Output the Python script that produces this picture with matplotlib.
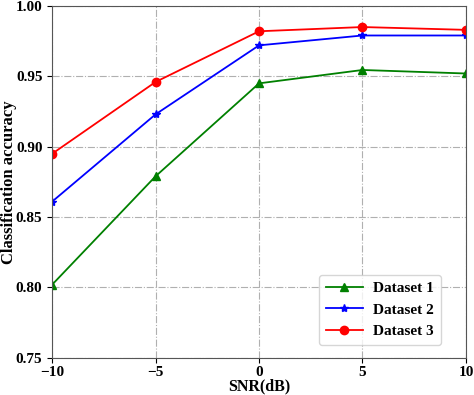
import matplotlib
matplotlib.use("Agg")
import matplotlib.pyplot as plt

plt.rcParams["font.family"] = "Liberation Serif"
plt.rcParams["font.weight"] = "bold"
plt.rcParams["font.size"] = 11

snr = [-10, -5, 0, 5, 10]
acc_d1 = [0.802, 0.879, 0.945, 0.9545, 0.952]
acc_d2 = [0.861, 0.923, 0.972, 0.979, 0.979]
acc_d3 = [0.895, 0.946, 0.982, 0.985, 0.983]

fig = plt.figure(figsize=(4.74, 3.95), dpi=100)
ax = fig.add_axes([0.110, 0.094, 0.873, 0.891])

ax.plot(snr, acc_d1, color="green", marker="^", markersize=6, lw=1.3, label="Dataset 1")
ax.plot(snr, acc_d2, color="blue", marker="*", markersize=6, lw=1.3, label="Dataset 2")
ax.plot(snr, acc_d3, color="red", marker="o", markersize=6, lw=1.3, label="Dataset 3")

ax.set_xlim(-10, 10)
ax.set_ylim(0.75, 1.0)
ax.set_xticks([-10, -5, 0, 5, 10])
ax.set_yticks([0.75, 0.80, 0.85, 0.90, 0.95, 1.00])
ax.set_yticklabels(["0.75", "0.80", "0.85", "0.90", "0.95", "1.00"])
ax.tick_params(axis="x", pad=2)
ax.grid(True, linestyle="-.", color="#b0b0b0", lw=0.8)

ax.set_xlabel("SNR(dB)", fontweight="bold", fontsize=11.5, labelpad=0)
ax.set_ylabel("Classification accuracy", fontweight="bold", fontsize=12)
ax.yaxis.set_label_coords(-0.085, 0.5)

for s in ax.spines.values():
    s.set_color("#555555")

leg = ax.legend(loc="lower right", bbox_to_anchor=(0.94, 0.037), borderaxespad=0,
                prop={"weight": "bold", "size": 11},
                handlelength=2.4, handletextpad=0.7, borderpad=0.45, labelspacing=0.5)

fig.savefig("out.png", dpi=100)
